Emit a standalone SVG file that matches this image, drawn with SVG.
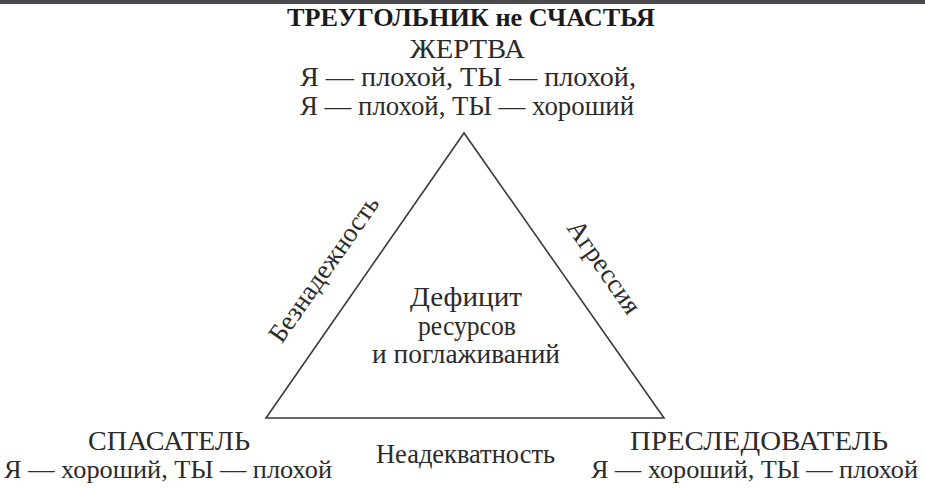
<svg xmlns="http://www.w3.org/2000/svg" width="925" height="488" viewBox="0 0 925 488">
<style>
text{font-family:"Liberation Serif","Times New Roman",serif;fill:#2b2b2b;font-size:27px}
.t{font-weight:bold;font-size:26px;fill:#1a1a1a}
.b{font-size:28px}
.s{font-size:26px}
.edge{fill:none;stroke:#3a3a3a;stroke-width:1.6;stroke-linejoin:miter}
</style>
<rect x="0" y="0" width="925" height="4" fill="#4a4a4f"/>
<text class="t" x="287" y="26" textLength="368" lengthAdjust="spacingAndGlyphs">ТРЕУГОЛЬНИК не СЧАСТЬЯ</text>
<g id="connectors">
<polygon class="edge" points="464,133 266,418 664,418"/>
</g>
<g id="victim">
<text x="410" y="58" textLength="115" lengthAdjust="spacingAndGlyphs">ЖЕРТВА</text>
<text x="300" y="86" textLength="336" lengthAdjust="spacingAndGlyphs">Я — плохой, ТЫ — плохой,</text>
<text x="300" y="115" textLength="334" lengthAdjust="spacingAndGlyphs">Я — плохой, ТЫ — хороший</text>
</g>
<g id="rescuer">
<text class="b" x="88" y="450" textLength="162" lengthAdjust="spacingAndGlyphs">СПАСАТЕЛЬ</text>
<text class="s" x="4" y="478" textLength="328" lengthAdjust="spacingAndGlyphs">Я — хороший, ТЫ — плохой</text>
</g>
<g id="persecutor">
<text class="b" x="630" y="450" textLength="258" lengthAdjust="spacingAndGlyphs">ПРЕСЛЕДОВАТЕЛЬ</text>
<text class="s" x="591" y="478" textLength="327" lengthAdjust="spacingAndGlyphs">Я — хороший, ТЫ — плохой</text>
</g>
<g id="center">
<text x="410" y="306" textLength="112" lengthAdjust="spacingAndGlyphs">Дефицит</text>
<text x="418" y="335" textLength="98" lengthAdjust="spacingAndGlyphs">ресурсов</text>
<text x="372" y="363" textLength="188" lengthAdjust="spacingAndGlyphs">и поглаживаний</text>
</g>
<g id="labels">
<text text-anchor="middle" transform="translate(331,274) rotate(-55)" textLength="172" lengthAdjust="spacingAndGlyphs">Безнадежность</text>
<text text-anchor="middle" transform="translate(597,272) rotate(55)" textLength="108" lengthAdjust="spacingAndGlyphs">Агрессия</text>
<text class="b" x="376" y="463" textLength="179" lengthAdjust="spacingAndGlyphs">Неадекватность</text>
</g>
</svg>
